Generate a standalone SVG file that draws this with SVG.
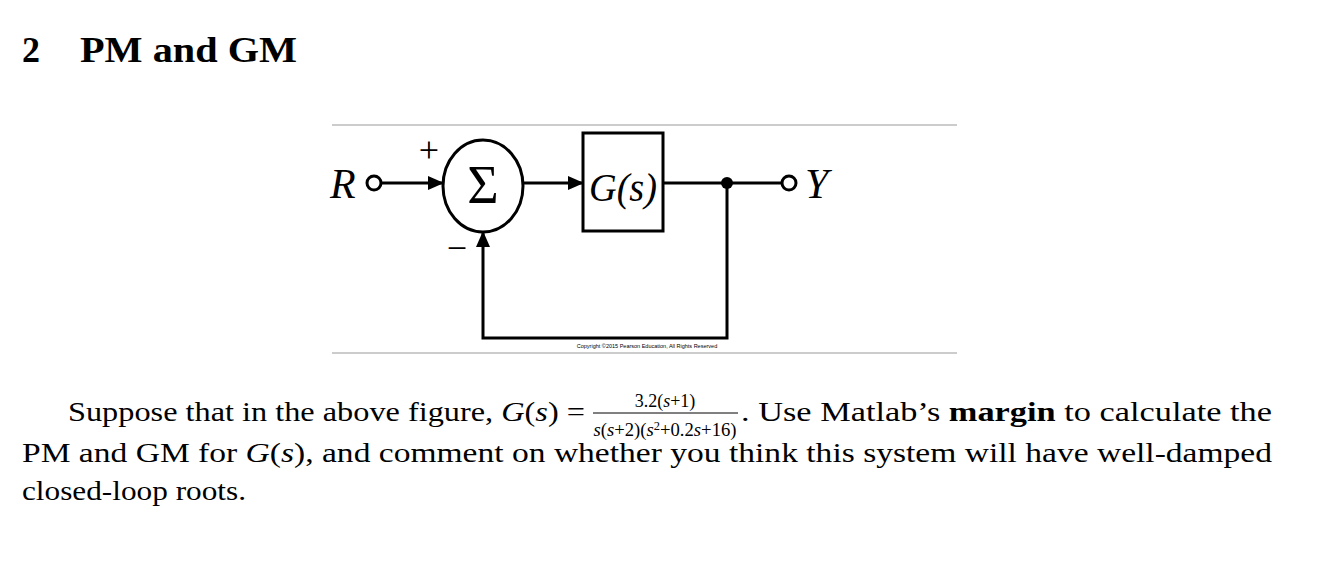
<svg xmlns="http://www.w3.org/2000/svg" width="1331" height="564" viewBox="0 0 1331 564">
<style>
.s{font-family:"Liberation Serif",serif;fill:#000}
.b{fill:none;stroke:#000;stroke-width:3}
.p{font-family:"Liberation Serif",serif;font-size:28px;fill:#000}
.f{font-family:"Liberation Serif",serif;font-size:18px;fill:#000}
</style>
<defs><marker id="a2" markerWidth="16" markerHeight="16" refX="15" refY="8" orient="auto" markerUnits="userSpaceOnUse" viewBox="0 0 16 16"><path d="M0,1 L16,8 L0,15z" fill="#000"/></marker></defs>
<rect width="1331" height="564" fill="#fff"/>
<text class="s" x="22" y="62" font-size="36" font-weight="bold">2</text>
<text class="s" x="80" y="62" font-size="36" font-weight="bold" textLength="217" lengthAdjust="spacingAndGlyphs">PM and GM</text>
<line x1="332" y1="125" x2="957" y2="125" stroke="#bbb" stroke-width="1.5"/>
<line x1="332" y1="353" x2="957" y2="353" stroke="#bbb" stroke-width="1.5"/>
<g id="R"><text class="s" x="330" y="198" font-size="42" font-style="italic">R</text><circle cx="374" cy="183" r="7" class="b" stroke-width="2.5"/></g>
<g id="sum"><ellipse cx="483" cy="186" rx="40" ry="46" class="b"/><text class="s" x="483" y="203" font-size="54" text-anchor="middle">Σ</text>
<text class="s" x="429" y="162" font-size="36" text-anchor="middle">+</text><text class="s" x="457" y="260" font-size="36" text-anchor="middle">−</text></g>
<g id="G"><rect x="583" y="133" width="80" height="98" class="b"/><text class="s" x="623" y="201" font-size="40" text-anchor="middle" font-style="italic" textLength="68" lengthAdjust="spacingAndGlyphs">G(s)</text></g>
<g id="junction"><circle cx="727" cy="183" r="6" fill="#000"/></g>
<g id="Y"><circle cx="789" cy="183" r="7" class="b" stroke-width="2.5"/><text class="s" x="805" y="198" font-size="42" font-style="italic">Y</text></g>
<g id="connectors" class="b" stroke-width="2.5">
<line x1="381" y1="183" x2="443" y2="183" marker-end="url(#a2)"/>
<line x1="523" y1="183" x2="583" y2="183" marker-end="url(#a2)"/>
<line x1="663" y1="183" x2="782" y2="183"/>
<polyline points="727,183 727,338 483,338 483,232" marker-end="url(#a2)"/>
</g>
<text x="647" y="348" font-family="Liberation Sans,sans-serif" font-size="5.5" text-anchor="middle">Copyright ©2015 Pearson Education, All Rights Reserved</text>
<text class="p" x="68" y="421" textLength="517" lengthAdjust="spacingAndGlyphs">Suppose that in the above figure, <tspan font-style="italic">G</tspan>(<tspan font-style="italic">s</tspan>) =</text>
<text class="f" x="665" y="407" text-anchor="middle">3.2(<tspan font-style="italic">s</tspan>+1)</text>
<line x1="593" y1="413" x2="738" y2="413" stroke="#000" stroke-width="1"/>
<text class="f" x="665" y="436" text-anchor="middle" textLength="143" lengthAdjust="spacingAndGlyphs"><tspan font-style="italic">s</tspan>(<tspan font-style="italic">s</tspan>+2)(<tspan font-style="italic">s</tspan><tspan style="font-size:12px" dy="-6">2</tspan><tspan dy="6">+0.2</tspan><tspan font-style="italic">s</tspan>+16)</text>
<text class="p" x="741" y="421" textLength="531" lengthAdjust="spacingAndGlyphs">.  Use Matlab’s <tspan font-weight="bold">margin</tspan> to calculate the</text>
<text class="p" x="22" y="462" textLength="1250" lengthAdjust="spacingAndGlyphs">PM and GM for <tspan font-style="italic">G</tspan>(<tspan font-style="italic">s</tspan>), and comment on whether you think this system will have well-damped</text>
<text class="p" x="22" y="500" textLength="224" lengthAdjust="spacingAndGlyphs">closed-loop roots.</text>
</svg>
